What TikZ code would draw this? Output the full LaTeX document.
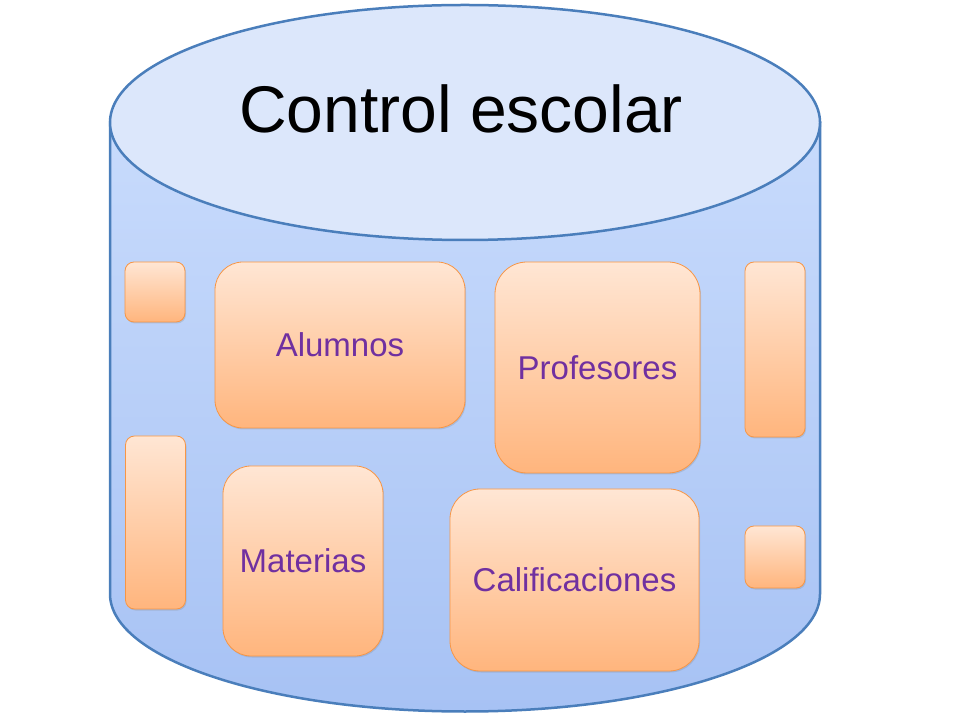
\documentclass[tikz,border=0pt]{standalone}
\usepackage{fontspec}
\setmainfont{Liberation Sans}
\usepackage{xcolor}
\usetikzlibrary{
    shapes,
    shapes.geometric,
    positioning,
    shadows,
    calc
}
\definecolor{cylline}{HTML}{4A7EBB}
\definecolor{cyltop}{HTML}{DCE7FB}
\definecolor{cylhigh}{HTML}{C8DBFC}
\definecolor{cyllow}{HTML}{A7C2F4}
\definecolor{boxline}{HTML}{F79646}
\definecolor{boxtop}{HTML}{FFE6D4}
\definecolor{boxbottom}{HTML}{FFB57D}
\definecolor{texto}{HTML}{7030A0}
\tikzset{
  cuerpo/.style = {
      draw=cylline,
      line width=2.5pt,
      top color=cylhigh,
      bottom color=cyllow
  },
  tapa/.style = {
      draw=cylline,
      line width=2.5pt,
      fill=cyltop,
      ellipse,
      inner sep=0pt
  },
  titulo/.style = {
      font=\fontsize{66}{70}\selectfont,
      text=black
  },
  tabla/.style = {
      draw=boxline,
      line width=0.8pt,
      rectangle,
      inner sep=0pt,
      top color=boxtop,
      bottom color=boxbottom,
      drop shadow={opacity=0.25, shadow xshift=1pt, shadow yshift=-1.5pt},
      font=\fontsize{33}{36}\selectfont,
      text=texto,
      align=center
  },
  chica/.style = {
      tabla,
      rounded corners=9pt
  },
  grande/.style = {
      tabla,
      rounded corners=28pt
  }
}
\begin{document}
\begin{tikzpicture}[x=1pt, y=1pt]
        \useasboundingbox (0,0) rectangle (960,720);
        % Cylinder
        \path[cuerpo] (110,597.5) -- (110,126)
            arc[start angle=180, end angle=360, x radius=355pt, y radius=117.5pt]
            -- (820,597.5) -- cycle;
        \node[tapa, minimum width=710pt, minimum height=235pt] (tope) at (465,597.5) {};
        \node[titulo] (control) at (461,611) {Control escolar};
        % Tables
        \node[grande, minimum width=250pt, minimum height=166pt] (alumnos) at (340,375) {Alumnos};
        \node[grande, minimum width=205pt, minimum height=211pt, rounded corners=32pt] (profesores) at (597.5,352.5) {Profesores};
        \node[grande, minimum width=160pt, minimum height=190pt] (materias) at (303,159) {Materias};
        \node[grande, minimum width=249pt, minimum height=182pt, rounded corners=30pt] (calificaciones) at (574.5,140) {Calificaciones};
        \node[chica, minimum width=60pt, minimum height=60pt] (chicaA) at (155,428) {};
        \node[chica, minimum width=60pt, minimum height=173pt] (altaA) at (155.5,197.5) {};
        \node[chica, minimum width=60pt, minimum height=175pt] (altaB) at (775,370.5) {};
        \node[chica, minimum width=60pt, minimum height=62pt] (chicaB) at (775,163) {};
    \end{tikzpicture}
\end{document}
